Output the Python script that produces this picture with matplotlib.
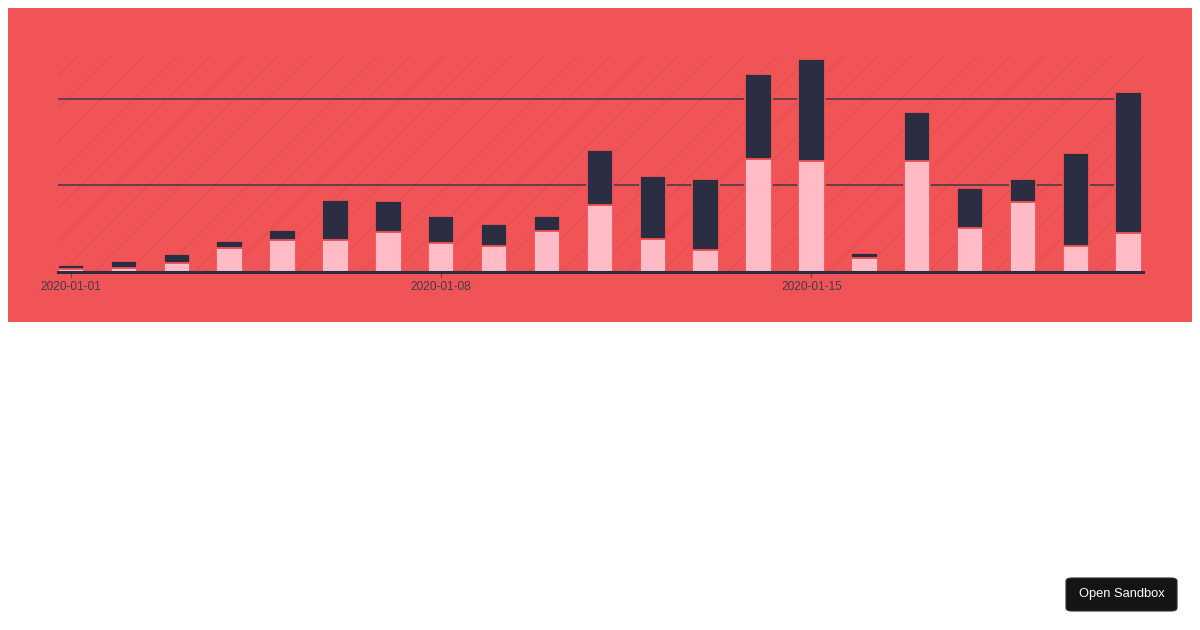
import matplotlib
matplotlib.use("Agg")
import matplotlib.pyplot as plt
import matplotlib.dates as mdates
from matplotlib.patches import Rectangle, FancyBboxPatch
import numpy as np

plt.rcParams['font.family'] = ['Liberation Sans', 'DejaVu Sans']
plt.rcParams['hatch.linewidth'] = 0.8

# ---- data ----
dates = np.arange(np.datetime64('2020-01-01'), np.datetime64('2020-01-22'))
series_a = [0.3, 0.45, 1.05, 2.8, 3.65, 3.7, 4.6, 3.35, 3.0, 4.75, 7.75, 3.8, 2.55,
            13.0, 12.8, 1.6, 12.85, 5.05, 8.1, 2.95, 4.45]
series_b = [0.5, 0.8, 1.0, 0.75, 1.2, 4.6, 3.55, 3.1, 2.55, 1.75, 6.35, 7.3, 8.2,
            9.9, 11.8, 0.6, 5.6, 4.7, 2.6, 10.75, 16.3]
grid_values = [10, 20]
tick_dates = ['2020-01-01', '2020-01-08', '2020-01-15']

BG = '#f05456'
DARK = '#2b2d42'
PINK = '#ffbcc6'

W, H = 1200, 630
fig = plt.figure(figsize=(12, 6.3), dpi=100)
fig.patch.set_facecolor('white')

# red panel
fig.add_artist(Rectangle((8 / W, 1 - 322 / H), (1192 - 8) / W, (322 - 8) / H,
                         transform=fig.transFigure, facecolor=BG, edgecolor='none', zorder=0))

ax = fig.add_axes([58 / W, 1 - 272 / H, (1143 - 58) / W, (272 - 56) / H])
ax.patch.set_alpha(0)

# faint diagonal hatch in plot area
ax.add_patch(Rectangle((0, 0), 1, 1, transform=ax.transAxes, facecolor='none',
                       edgecolor=(0.5, 0.12, 0.18, 0.12), linewidth=0, hatch='/', zorder=0))

x = mdates.date2num(dates.astype('datetime64[D]').astype(object))
width = 0.5
ax.bar(x, series_a, width=width, color=PINK, edgecolor=BG, linewidth=1.3, zorder=3)
ax.bar(x, series_b, width=width, bottom=series_a, color=DARK, edgecolor=BG,
       linewidth=1.3, zorder=3)

for g in grid_values:
    ax.axhline(g, color='#5a3c4a', linewidth=1.3, zorder=1)

ax.set_xlim(x[0] - 0.245, x[-1] + 0.27)
ax.set_ylim(0, 24.95)

for s in ['top', 'right', 'left']:
    ax.spines[s].set_visible(False)
ax.spines['bottom'].set_color(DARK)
ax.spines['bottom'].set_linewidth(2.2)
ax.spines['bottom'].set_zorder(4)

tick_x = mdates.date2num([np.datetime64(t).astype(object) for t in tick_dates])
ax.set_xticks(tick_x)
ax.set_xticklabels(tick_dates)
ax.tick_params(axis='x', length=4, width=0.8, color='#6a4a55', labelsize=8.6,
               labelcolor='#44384a', pad=2.5)
ax.set_yticks([])

# button
fig.add_artist(FancyBboxPatch((1066 / W, 1 - 611 / H), (1177 - 1066) / W, (611 - 578) / H,
                              boxstyle='round,pad=0,rounding_size=0.005',
                              transform=fig.transFigure, facecolor='#141414',
                              edgecolor='#2a2a3a', linewidth=0.8))
fig.text((1066 + 1177) / 2 / W, 1 - 594.5 / H, 'Open Sandbox', color='white',
         fontsize=9.3, ha='center', va='center')

fig.savefig('out.png', dpi=100, facecolor='white')
